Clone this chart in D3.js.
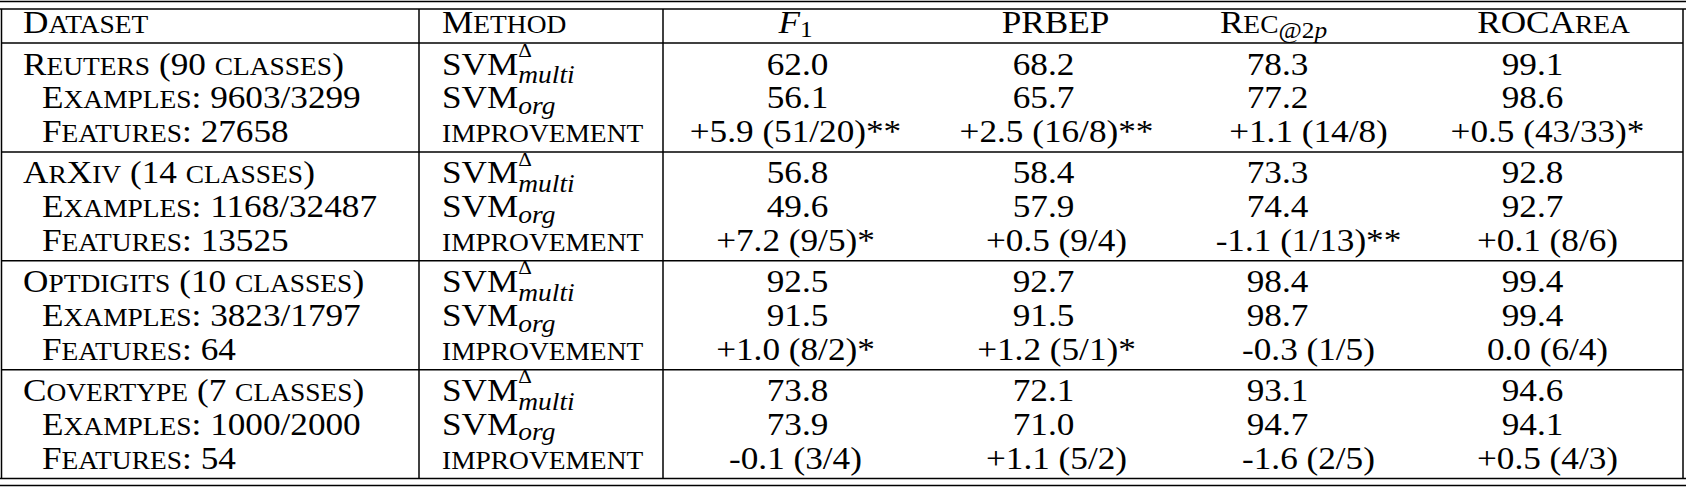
<!DOCTYPE html>
<html><head><meta charset="utf-8">
<script src="https://cdn.jsdelivr.net/npm/d3@7/dist/d3.min.js"></script>
<style>
html,body{margin:0;padding:0;background:#fff;}
svg{display:block;}
text{font-family:"Liberation Serif","Times New Roman",serif;fill:#000;white-space:pre;}
</style></head><body>
<svg id="c" width="1686" height="489"></svg>
<script>
// ---------------- data ----------------
const datasets = ["Reuters (90 classes)", "ArXiv (14 classes)", "Optdigits (10 classes)", "Covertype (7 classes)"];
const examples = ["9603/3299", "1168/32487", "3823/1797", "1000/2000"];
const features = ["27658", "13525", "64", "54"];
const metrics = ["F1", "PRBEP", "Rec@2p", "ROCArea"];
const svmMulti = [[62.0, 68.2, 78.3, 99.1], [56.8, 58.4, 73.3, 92.8], [92.5, 92.7, 98.4, 99.4], [73.8, 72.1, 93.1, 94.6]];
const svmOrg   = [[56.1, 65.7, 77.2, 98.6], [49.6, 57.9, 74.4, 92.7], [91.5, 91.5, 98.7, 99.4], [73.9, 71.0, 94.7, 94.1]];
const impDelta = [[5.9, 2.5, 1.1, 0.5], [7.2, 0.5, -1.1, 0.1], [1.0, 1.2, -0.3, 0.0], [-0.1, 1.1, -1.6, 0.5]];
const impWins  = [[51, 16, 14, 43], [9, 9, 1, 8], [8, 5, 1, 6], [3, 5, 2, 4]];
const impLoss  = [[20, 8, 8, 33], [5, 4, 13, 6], [2, 1, 5, 4], [4, 2, 5, 3]];
const impSig   = [["**", "**", "", "*"], ["*", "", "**", ""], ["*", "*", "", ""], ["", "", "", ""]];

// ---------------- layout ----------------
const W = 1686, H = 489;
const FS = 32, KX = 1.1, SC = 0.78;
const svg = d3.select("#c");

const xLeft = 1.5, xDiv1 = 419, xDiv2 = 663, xRight = 1683;
const yTop1 = 1.5, yTop2 = 9, yHead = 43, yBot1 = 478.5, yBot2 = 485.5;

const groupY = d3.scaleBand().domain(d3.range(datasets.length)).range([yHead, yBot1]);
const rowY = d3.scaleLinear().domain([0, 3]).range([0, groupY.bandwidth()]);
const colX = d3.scaleBand().domain(metrics).range([xDiv2, xRight]);
const valOff = {"F1": 7, "PRBEP": -2, "Rec@2p": -23, "ROCArea": -23};
const impOff = {"F1": 5, "PRBEP": 11, "Rec@2p": 8, "ROCArea": -8};
const headOff = {"F1": 5, "PRBEP": 10, "Rec@2p": -27, "ROCArea": -2};
const rowBase = [0.87, 1.8, 2.73];

// ---------------- text helpers ----------------
function sc(str, size) { // small caps runs
  const runs = [];
  const re = /([a-z]+)|([^a-z]+)/g; let m;
  while ((m = re.exec(str))) {
    if (m[1]) runs.push({text: m[1].toUpperCase(), size: (size || 1) * SC});
    else runs.push({text: m[2], size: size || 1});
  }
  return runs;
}
const meas = svg.append("text").attr("xml:space", "preserve").attr("opacity", 0);
function width(r) {
  meas.attr("font-size", FS * (r.size || 1)).attr("font-style", r.italic ? "italic" : null).text(r.text);
  return meas.node().getComputedTextLength();
}
function drawCell(x, y, runs, anchor) {
  let cx = 0, lastStart = 0;
  const placed = runs.map(r => {
    const start = r.stack ? lastStart : cx;
    const w = width(r);
    lastStart = start;
    cx = Math.max(cx, start + w);
    return {r, start};
  });
  const shift = anchor === "middle" ? -cx / 2 : 0;
  const t = svg.append("text").attr("xml:space", "preserve")
    .attr("transform", `translate(${x},${y}) scale(${KX},1)`);
  placed.forEach(p => {
    t.append("tspan")
      .attr("x", p.start + shift)
      .attr("y", (p.r.dy || 0) * FS)
      .attr("font-size", FS * (p.r.size || 1))
      .attr("font-style", p.r.italic ? "italic" : null)
      .text(p.r.text);
  });
}

// ---------------- rules ----------------
const lines = svg.append("g").attr("stroke", "#000").attr("stroke-width", 1.5);
[yTop1, yTop2, yBot1, yBot2].forEach(y => lines.append("line").attr("x1", 0).attr("x2", W).attr("y1", y).attr("y2", y));
lines.append("line").attr("x1", xLeft).attr("x2", xRight).attr("y1", yHead).attr("y2", yHead);
datasets.slice(1).forEach((d, i) => {
  const y = groupY(i + 1);
  lines.append("line").attr("x1", xLeft).attr("x2", xRight).attr("y1", y).attr("y2", y);
});
[xLeft, xDiv1, xDiv2, xRight].forEach(x => lines.append("line").attr("x1", x).attr("x2", x).attr("y1", yTop2).attr("y2", yBot1));

// ---------------- header ----------------
const headBase = 32.5;
drawCell(23, headBase, sc("Dataset"));
drawCell(442, headBase, sc("Method"));
const headRuns = {
  "F1": [{text: "F", italic: true}, {text: "1", size: 0.72, dy: 0.15}],
  "PRBEP": [{text: "PRBEP"}],
  "Rec@2p": [...sc("Rec"), {text: "@2", size: 0.72, dy: 0.18}, {text: "p", size: 0.72, dy: 0.18, italic: true}],
  "ROCArea": [...sc("ROCArea")]
};
metrics.forEach(m => drawCell(colX(m) + colX.bandwidth() / 2 + headOff[m], headBase, headRuns[m], "middle"));

// ---------------- body ----------------
const fmtDelta = v => (v > 0 ? "+" : v < 0 ? "-" : "") + Math.abs(v).toFixed(1);
datasets.forEach((ds, gi) => {
  const top = groupY(gi);
  const yb = rowBase.map(r => top + rowY(r));
  drawCell(23, yb[0], sc(ds));
  drawCell(42, yb[1], sc("Examples: " + examples[gi]));
  drawCell(42, yb[2], sc("Features: " + features[gi]));
  drawCell(442, yb[0], [{text: "SVM"}, {text: "\u0394", size: 0.6, dy: -0.56}, {text: "multi", size: 0.78, dy: 0.27, italic: true, stack: true}]);
  drawCell(442, yb[1], [{text: "SVM"}, {text: "org", size: 0.78, dy: 0.17, italic: true}]);
  drawCell(442, yb[2], sc("improvement"));
  metrics.forEach((m, mi) => {
    const c = colX(m) + colX.bandwidth() / 2;
    drawCell(c + valOff[m], yb[0], [{text: svmMulti[gi][mi].toFixed(1)}], "middle");
    drawCell(c + valOff[m], yb[1], [{text: svmOrg[gi][mi].toFixed(1)}], "middle");
    const s = fmtDelta(impDelta[gi][mi]) + " (" + impWins[gi][mi] + "/" + impLoss[gi][mi] + ")" + impSig[gi][mi];
    drawCell(c + impOff[m], yb[2], [{text: s}], "middle");
  });
});
meas.remove();
</script>
</body></html>
